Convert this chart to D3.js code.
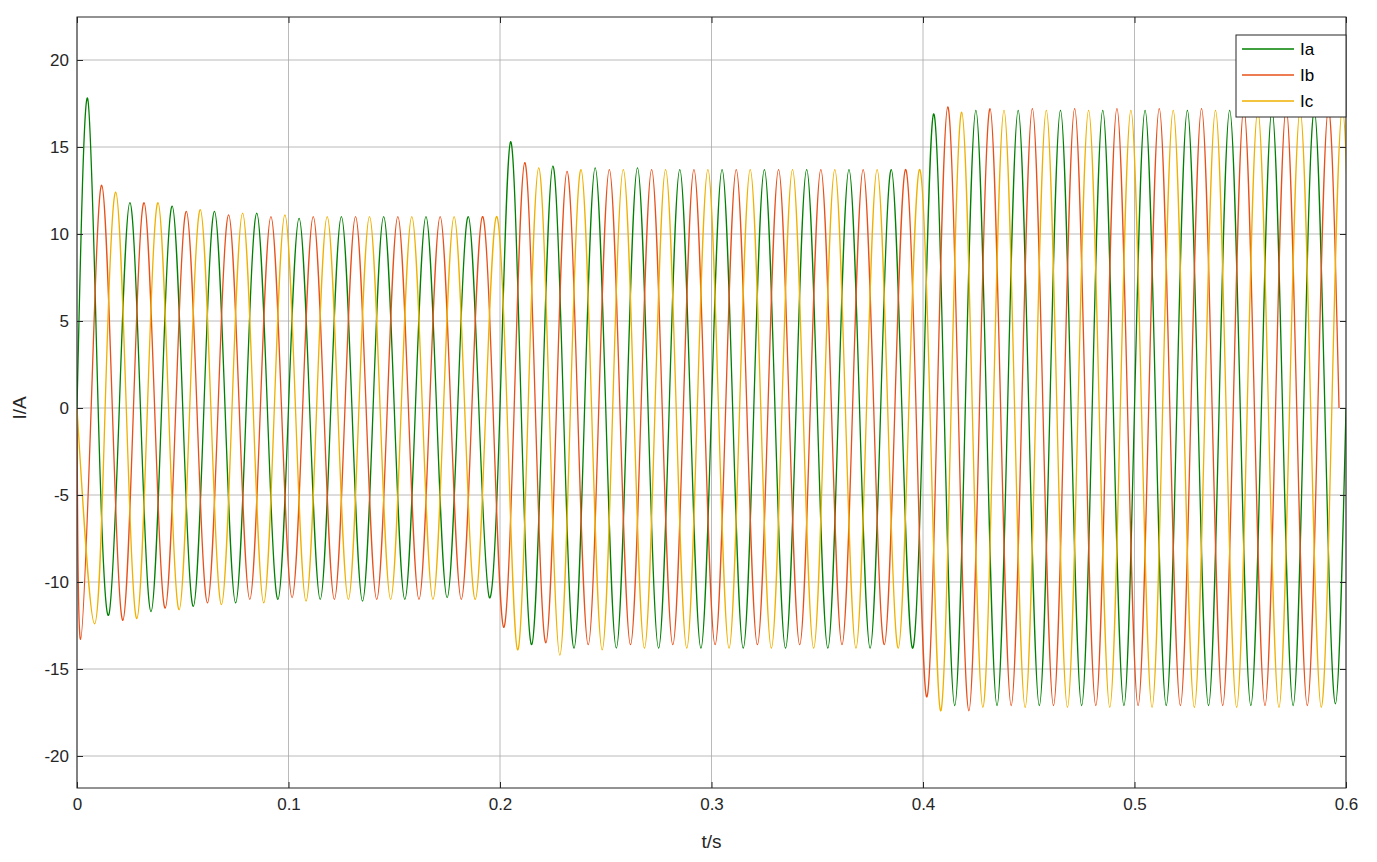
<!DOCTYPE html>
<html><head><meta charset="utf-8">
<script src="https://cdn.jsdelivr.net/npm/d3@7"></script>
<style>body{margin:0;background:#fff}text{font-family:"Liberation Sans",Arial,sans-serif}</style>
</head><body><svg id="c" width="1377" height="862"></svg>
<script>
const xTicks=[0,0.1,0.2,0.3,0.4,0.5,0.6];
const yTicks=[-20,-15,-10,-5,0,5,10,15,20];
const seriesNames=["Ia","Ib","Ic"];
const colors=["#008000","#e8501a","#f0b000"];
// time of first extremum for each phase (s); extrema every half period (0.01 s)
const firstExtremum=[0.005,0.0017,0.0083];
// half-cycle extrema
const iaExt=[17.8,-11.9,11.8,-11.7,11.6,-11.4,11.3,-11.2,11.2,-11.0,10.9,-11.0,11.0,-11.1,11.0,-11.0,11.0,-10.9,11.0,-10.9,
15.3,-13.6,13.9,-13.8,13.8,-13.8,13.8,-13.8,13.7,-13.8,13.7,-13.8,13.7,-13.8,13.7,-13.8,13.7,-13.8,13.7,-13.8,
16.9,-17.1,17.1,-17.1,17.1,-17.1,17.1,-17.1,17.1,-17.1,17.1,-17.1,17.1,-17.1,17.1,-17.1,17.1,-17.1,17.1,-17.0];
const ibExt=[-13.3,12.8,-12.2,11.8,-11.5,11.3,-11.2,11.1,-11.0,11.0,-10.9,11.0,-11.0,11.0,-11.0,11.0,-11.0,11.0,-11.0,11.0,
-12.6,14.1,-13.5,13.6,-13.6,13.7,-13.6,13.7,-13.6,13.7,-13.6,13.7,-13.6,13.7,-13.6,13.7,-13.6,13.7,-13.6,13.7,
-16.6,17.3,-17.4,17.2,-17.1,17.2,-17.1,17.2,-17.1,17.2,-17.1,17.2,-17.1,17.2,-17.1,17.2,-17.1,17.2,-17.1,17.2];
const icExt=[-12.4,12.4,-12.1,11.8,-11.6,11.4,-11.3,11.2,-11.2,11.1,-11.1,11.0,-11.0,11.0,-11.0,11.0,-11.0,11.0,-11.0,11.0,
-13.9,13.8,-14.2,13.7,-13.9,13.7,-13.8,13.7,-13.8,13.7,-13.8,13.7,-13.8,13.7,-13.8,13.7,-13.8,13.7,-13.8,13.7,
-17.4,17.0,-17.2,17.1,-17.2,17.1,-17.2,17.1,-17.2,17.1,-17.2,17.1,-17.2,17.1,-17.2,17.1,-17.2,17.1,-17.2,17.2];
const extrema=[iaExt,ibExt,icExt];

const svg=d3.select("#c");
const L=77,R=1346,T=17,B=788;
const x=d3.scaleLinear().domain([0,0.6]).range([L,R]);
const y=d3.scaleLinear().domain([-20,20]).range([756,60]);
const g=svg.append("g");
g.selectAll(".gx").data(xTicks).join("line").attr("x1",d=>x(d)).attr("x2",d=>x(d)).attr("y1",T).attr("y2",B).attr("stroke","#a8a8a8").attr("stroke-width",0.8);
g.selectAll(".gy").data(yTicks).join("line").attr("y1",d=>y(d)).attr("y2",d=>y(d)).attr("x1",L).attr("x2",R).attr("stroke","#a8a8a8").attr("stroke-width",0.8);

svg.append("clipPath").attr("id","cp").append("rect").attr("x",L).attr("y",T).attr("width",R-L).attr("height",B-T);
const line=d3.line().x(d=>x(d[0])).y(d=>y(d[1])).curve(d3.curveNatural);
extrema.forEach((ext,i)=>{
  const pts=[[0,0]];
  ext.forEach((v,k)=>{
    const t=firstExtremum[i]+0.01*k;
    if(k>0) pts.push([t-0.005,0]);
    pts.push([t,v]);
  });
  pts.push([firstExtremum[i]+0.01*ext.length-0.005,0]);
  svg.append("path").datum(pts).attr("d",line).attr("fill","none").attr("stroke",colors[i]).attr("stroke-width",1.3).attr("clip-path","url(#cp)");
});

svg.append("rect").attr("x",L).attr("y",T).attr("width",R-L).attr("height",B-T).attr("fill","none").attr("stroke","#262626").attr("stroke-width",1);
svg.append("g").attr("transform",`translate(0,${B})`).call(d3.axisBottom(x).tickValues(xTicks).tickFormat(d=>d===0?"0":d3.format(".1f")(d)).tickSize(-6).tickPadding(10));
svg.append("g").attr("transform",`translate(${L},0)`).call(d3.axisLeft(y).tickValues(yTicks).tickFormat(d=>String(d)).tickSize(-6).tickPadding(8));
svg.append("g").attr("transform",`translate(${R},0)`).call(d3.axisRight(y).tickValues(yTicks).tickSize(-6).tickFormat(""));
svg.append("g").attr("transform",`translate(0,${T})`).call(d3.axisTop(x).tickValues(xTicks).tickSize(-6).tickFormat(""));
svg.selectAll(".domain").remove();
svg.selectAll(".tick line").attr("stroke","#262626");
svg.selectAll(".tick text").attr("font-size",17).attr("fill","#262626").attr("font-family","Liberation Sans, Arial");
svg.append("text").attr("x",(L+R)/2).attr("y",848).attr("text-anchor","middle").attr("font-size",19).attr("fill","#262626").text("t/s");
svg.append("text").attr("transform",`translate(26,${y(0)}) rotate(-90)`).attr("text-anchor","middle").attr("font-size",19).attr("fill","#262626").text("I/A");

const lg=svg.append("g").attr("transform","translate(1236,35)");
lg.append("rect").attr("width",110).attr("height",82).attr("fill","#fff").attr("stroke","#262626").attr("stroke-width",1);
seriesNames.forEach((n,i)=>{
  lg.append("line").attr("x1",6).attr("x2",58).attr("y1",14+i*26).attr("y2",14+i*26).attr("stroke",colors[i]).attr("stroke-width",1.3);
  lg.append("text").attr("x",64).attr("y",20+i*26).attr("font-size",17).attr("fill","#000").text(n);
});
</script></body></html>
